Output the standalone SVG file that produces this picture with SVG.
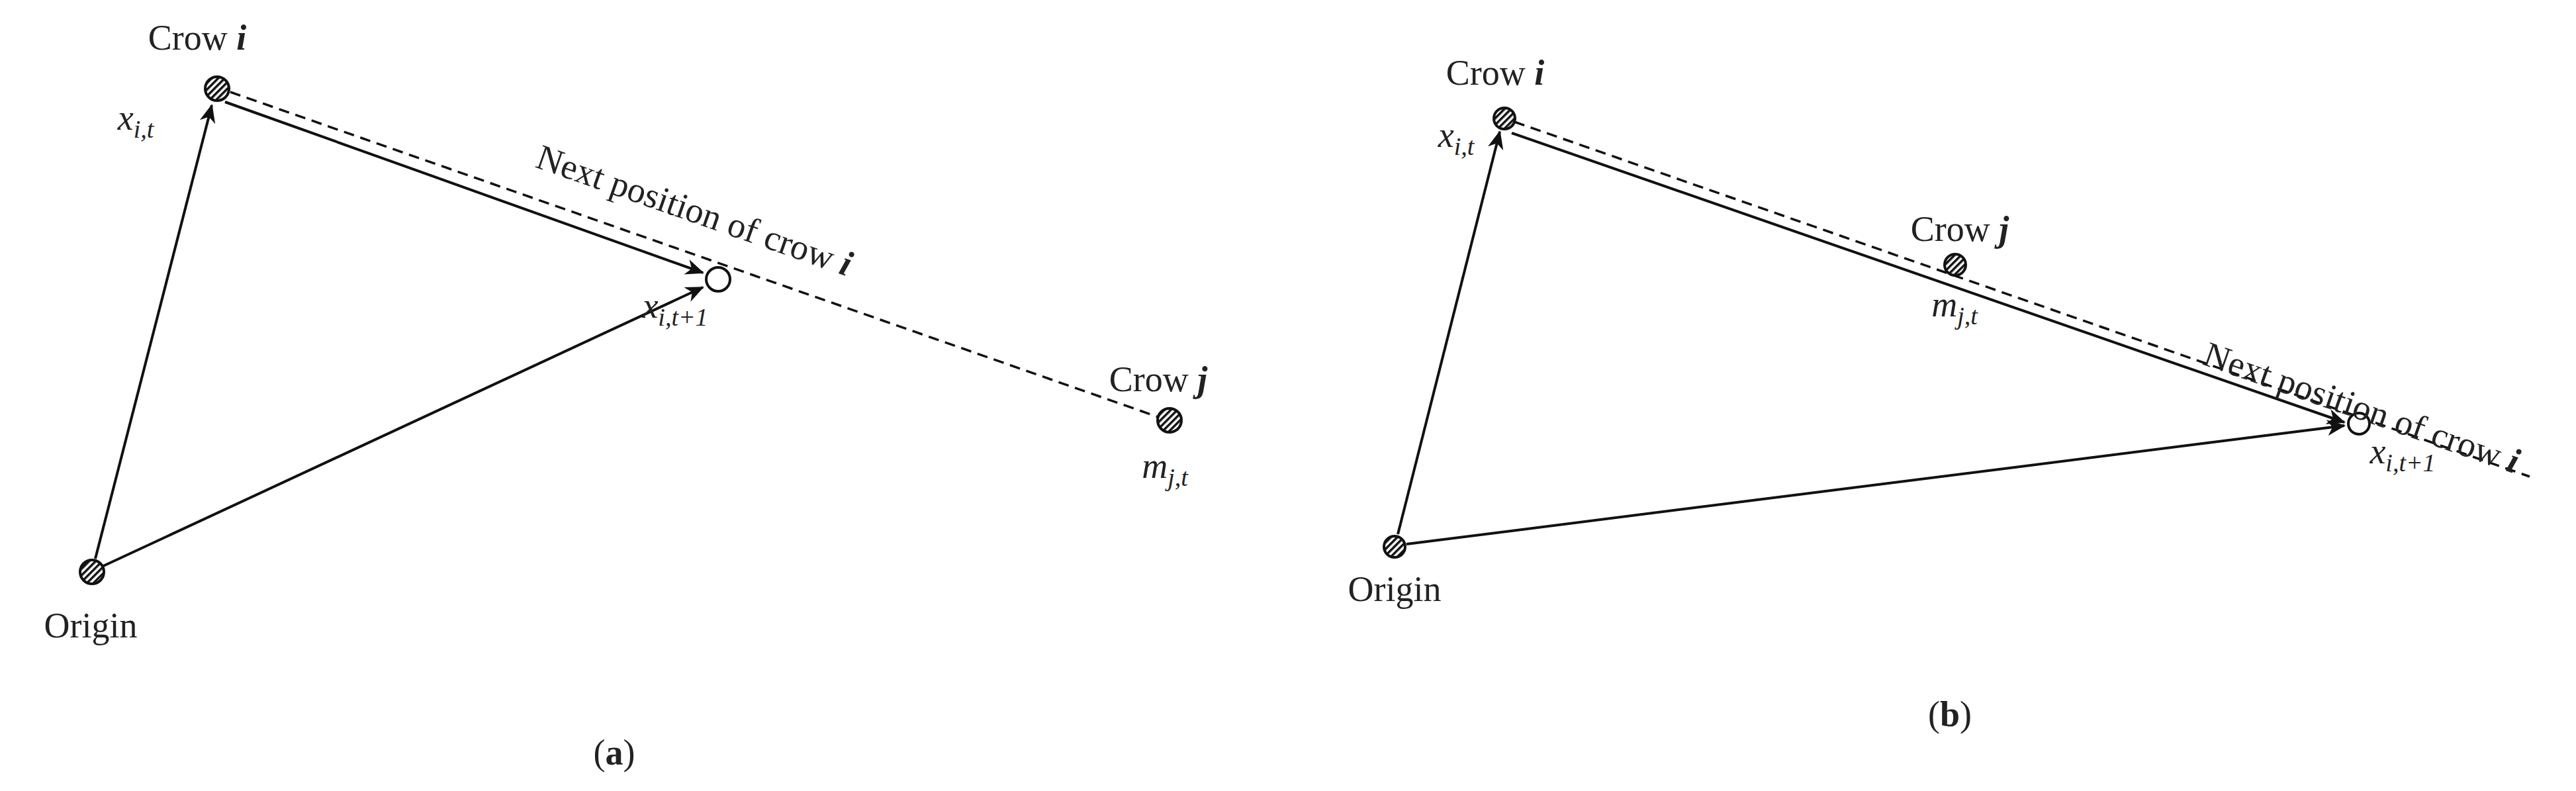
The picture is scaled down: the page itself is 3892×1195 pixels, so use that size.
<svg xmlns="http://www.w3.org/2000/svg" width="3892" height="1195" viewBox="0 0 3892 1195">
<style>
text{font-family:"Liberation Serif","DejaVu Serif",serif;fill:#222;font-size:54px}
.m{font-style:italic}
.sub{font-size:38px;font-style:italic}
.b{font-weight:bold;font-style:italic}
.ln{stroke:#111;stroke-width:4;fill:none}
.ds{stroke:#111;stroke-width:3.5;stroke-dasharray:16 10;fill:none}
.hn{fill:url(#hatch);stroke:#111;stroke-width:4}
.on{fill:#fff;stroke:#111;stroke-width:4}
</style>
<defs>
<pattern id="hatch" width="7" height="7" patternUnits="userSpaceOnUse" patternTransform="rotate(45)">
<rect width="7" height="7" fill="#fff"/><rect width="3.5" height="7" fill="#111"/>
</pattern>
<marker id="ar" markerWidth="12" markerHeight="12" refX="10" refY="6" orient="auto" markerUnits="userSpaceOnUse" viewBox="0 0 12 12">
<path d="M0,0 L12,6 L0,12 L4,6 Z" fill="#111"/>
</marker>
<marker id="arr" markerWidth="30" markerHeight="30" refX="26" refY="15" orient="auto" markerUnits="userSpaceOnUse" viewBox="0 0 30 30">
<path d="M0,3 L28,15 L0,27 L8,15 Z" fill="#111"/>
</marker>
</defs>
<g id="connectors">
<line class="ds" x1="348" y1="139" x2="1750" y2="630"/>
<line class="ln" x1="340" y1="154" x2="1062" y2="412" marker-end="url(#arr)"/>
<line class="ln" x1="144" y1="844" x2="320" y2="159" marker-end="url(#arr)"/>
<line class="ln" x1="154" y1="856" x2="1062" y2="434" marker-end="url(#arr)"/>
<line class="ds" x1="2288" y1="184" x2="3822" y2="720"/>
<line class="ln" x1="2284" y1="201" x2="3542" y2="638" marker-end="url(#arr)"/>
<line class="ln" x1="2112" y1="807" x2="2266" y2="199" marker-end="url(#arr)"/>
<line class="ln" x1="2125" y1="822" x2="3542" y2="643" marker-end="url(#arr)"/>
</g>
<g id="a-crow-i"><circle class="hn" cx="328" cy="134" r="18"/>
<text x="298" y="75" text-anchor="middle">Crow <tspan class="b">i</tspan></text>
<text x="205" y="196" text-anchor="middle" class="m">x<tspan class="sub" dy="12">i,t</tspan></text></g>
<g id="a-origin"><circle class="hn" cx="139" cy="864" r="18"/>
<text x="137" y="963" text-anchor="middle">Origin</text></g>
<g id="a-next"><circle class="on" cx="1085" cy="422" r="18"/>
<text x="1020" y="480" text-anchor="middle" class="m">x<tspan class="sub" dy="12">i,t+1</tspan></text>
<text x="807" y="252" transform="rotate(19.3 807 252)">Next position of  crow <tspan class="b">i</tspan></text></g>
<g id="a-crow-j"><circle class="hn" cx="1767" cy="635" r="18"/>
<text x="1750" y="591" text-anchor="middle">Crow <tspan class="b">j</tspan></text>
<text x="1760" y="722" text-anchor="middle" class="m">m<tspan class="sub" dy="12">j,t</tspan></text></g>
<text x="928" y="1155" text-anchor="middle">(<tspan font-weight="bold">a</tspan>)</text>
<g id="b-crow-i"><circle class="hn" cx="2273" cy="179" r="16"/>
<text x="2259" y="128" text-anchor="middle">Crow <tspan class="b">i</tspan></text>
<text x="2200" y="222" text-anchor="middle" class="m">x<tspan class="sub" dy="12">i,t</tspan></text></g>
<g id="b-origin"><circle class="hn" cx="2107" cy="826" r="16"/>
<text x="2107" y="908" text-anchor="middle">Origin</text></g>
<g id="b-crow-j"><circle class="hn" cx="2954" cy="400" r="16"/>
<text x="2961" y="364" text-anchor="middle">Crow <tspan class="b">j</tspan></text>
<text x="2953" y="478" text-anchor="middle" class="m">m<tspan class="sub" dy="12">j,t</tspan></text></g>
<g id="b-next"><circle class="on" cx="3564" cy="640" r="16"/>
<text x="3630" y="700" text-anchor="middle" class="m">x<tspan class="sub" dy="12">i,t+1</tspan></text>
<text x="3326" y="550" transform="rotate(19.3 3326 550)" font-size="48">Next position of  crow <tspan class="b">i</tspan></text></g>
<text x="2946" y="1097" text-anchor="middle">(<tspan font-weight="bold">b</tspan>)</text>
</svg>
